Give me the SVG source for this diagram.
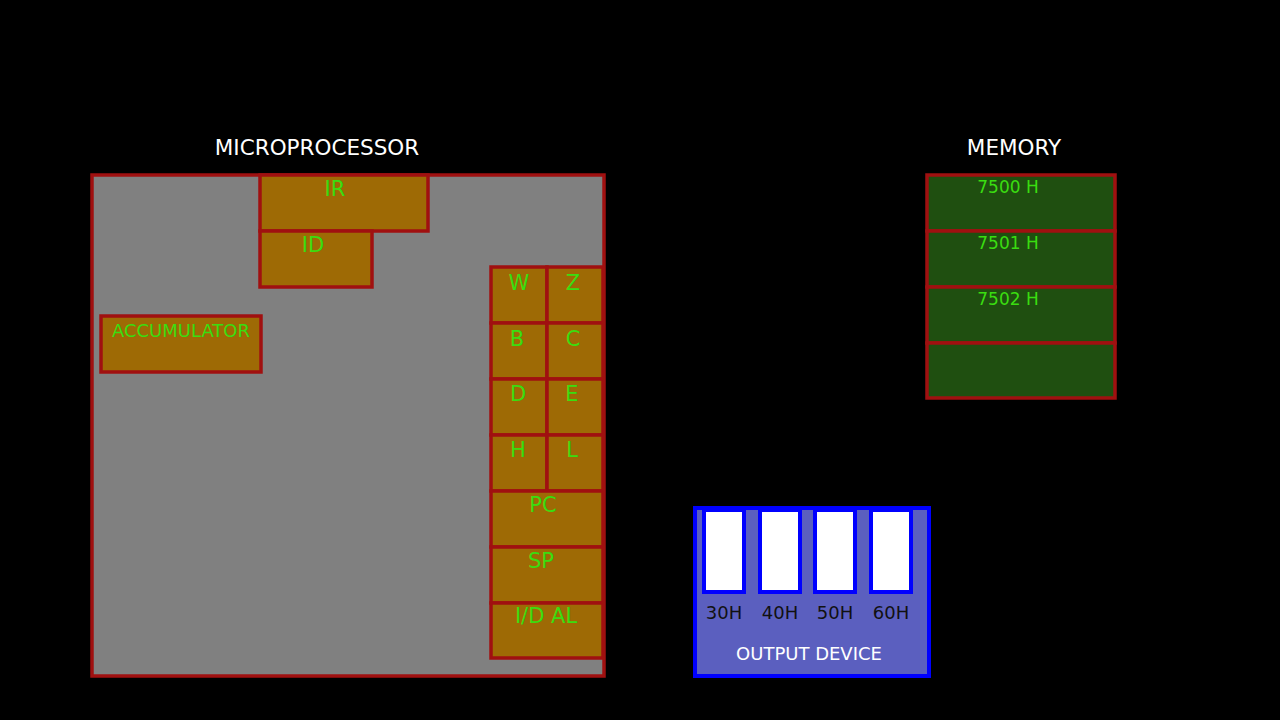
<svg xmlns="http://www.w3.org/2000/svg" width="1280" height="720" viewBox="0 0 1280 720">
<style>
text{font-family:"DejaVu Sans","Liberation Sans",sans-serif}
.reg{fill:#9e6a05;stroke:#a01010;stroke-width:3.5}
.rt{fill:#3add10;font-size:21px;text-anchor:middle}
.mem{fill:#1f4f10;stroke:#a01010;stroke-width:3.5}
.mt{fill:#3add10;font-size:17px;text-anchor:middle}
.bar{fill:#fff;stroke:#0000ff;stroke-width:4}
.ot{fill:#111;font-size:18px;text-anchor:middle}
.title{fill:#fff;font-size:21.5px;text-anchor:middle}
</style>
<rect width="1280" height="720" fill="#000"/>
<text class="title" x="317" y="155">MICROPROCESSOR</text>
<text class="title" x="1014" y="155">MEMORY</text>
<g id="microprocessor"><rect x="92" y="175" width="512" height="501" fill="#808080" stroke="#a01010" stroke-width="3.5"/></g>
<g id="ir"><rect class="reg" x="260" y="175" width="168" height="56"/><text class="rt" x="335" y="196">IR</text></g>
<g id="id"><rect class="reg" x="260" y="231" width="112" height="56"/><text class="rt" x="313" y="252">ID</text></g>
<g id="acc"><rect class="reg" x="101" y="316" width="160" height="56"/><text class="rt" x="181" y="337" style="font-size:18px">ACCUMULATOR</text></g>
<g id="w"><rect class="reg" x="491" y="267" width="56" height="56"/><text class="rt" x="519" y="290">W</text></g>
<g id="z"><rect class="reg" x="547" y="267" width="56" height="56"/><text class="rt" x="573" y="290">Z</text></g>
<g id="b"><rect class="reg" x="491" y="323" width="56" height="56"/><text class="rt" x="517" y="346">B</text></g>
<g id="c"><rect class="reg" x="547" y="323" width="56" height="56"/><text class="rt" x="573" y="346">C</text></g>
<g id="d"><rect class="reg" x="491" y="379" width="56" height="56"/><text class="rt" x="518" y="401">D</text></g>
<g id="e"><rect class="reg" x="547" y="379" width="56" height="56"/><text class="rt" x="572" y="401">E</text></g>
<g id="h"><rect class="reg" x="491" y="435" width="56" height="56"/><text class="rt" x="518" y="457">H</text></g>
<g id="l"><rect class="reg" x="547" y="435" width="56" height="56"/><text class="rt" x="572" y="457">L</text></g>
<g id="pc"><rect class="reg" x="491" y="491" width="112" height="56"/><text class="rt" x="543" y="512">PC</text></g>
<g id="sp"><rect class="reg" x="491" y="547" width="112" height="56"/><text class="rt" x="541" y="568">SP</text></g>
<g id="idal"><rect class="reg" x="491" y="603" width="112" height="55"/><text class="rt" x="546" y="623">I/D AL</text></g>
<g id="memory">
<rect class="mem" x="927" y="175" width="188" height="56"/><text class="mt" x="1008" y="193">7500 H</text>
<rect class="mem" x="927" y="231" width="188" height="56"/><text class="mt" x="1008" y="249">7501 H</text>
<rect class="mem" x="927" y="287" width="188" height="56"/><text class="mt" x="1008" y="305">7502 H</text>
<rect class="mem" x="927" y="343" width="188" height="55"/>
</g>
<g id="output">
<rect x="695" y="508" width="234" height="168" fill="#5b5fbf" stroke="#0000ff" stroke-width="4"/>
<rect class="bar" x="704" y="510" width="40" height="82"/>
<rect class="bar" x="760" y="510" width="40" height="82"/>
<rect class="bar" x="815" y="510" width="40" height="82"/>
<rect class="bar" x="871" y="510" width="40" height="82"/>
<text class="ot" x="724" y="619">30H</text>
<text class="ot" x="780" y="619">40H</text>
<text class="ot" x="835" y="619">50H</text>
<text class="ot" x="891" y="619">60H</text>
<text x="809" y="660" fill="#fff" font-size="18" text-anchor="middle">OUTPUT DEVICE</text>
</g>
<g id="connectors"/>
</svg>
